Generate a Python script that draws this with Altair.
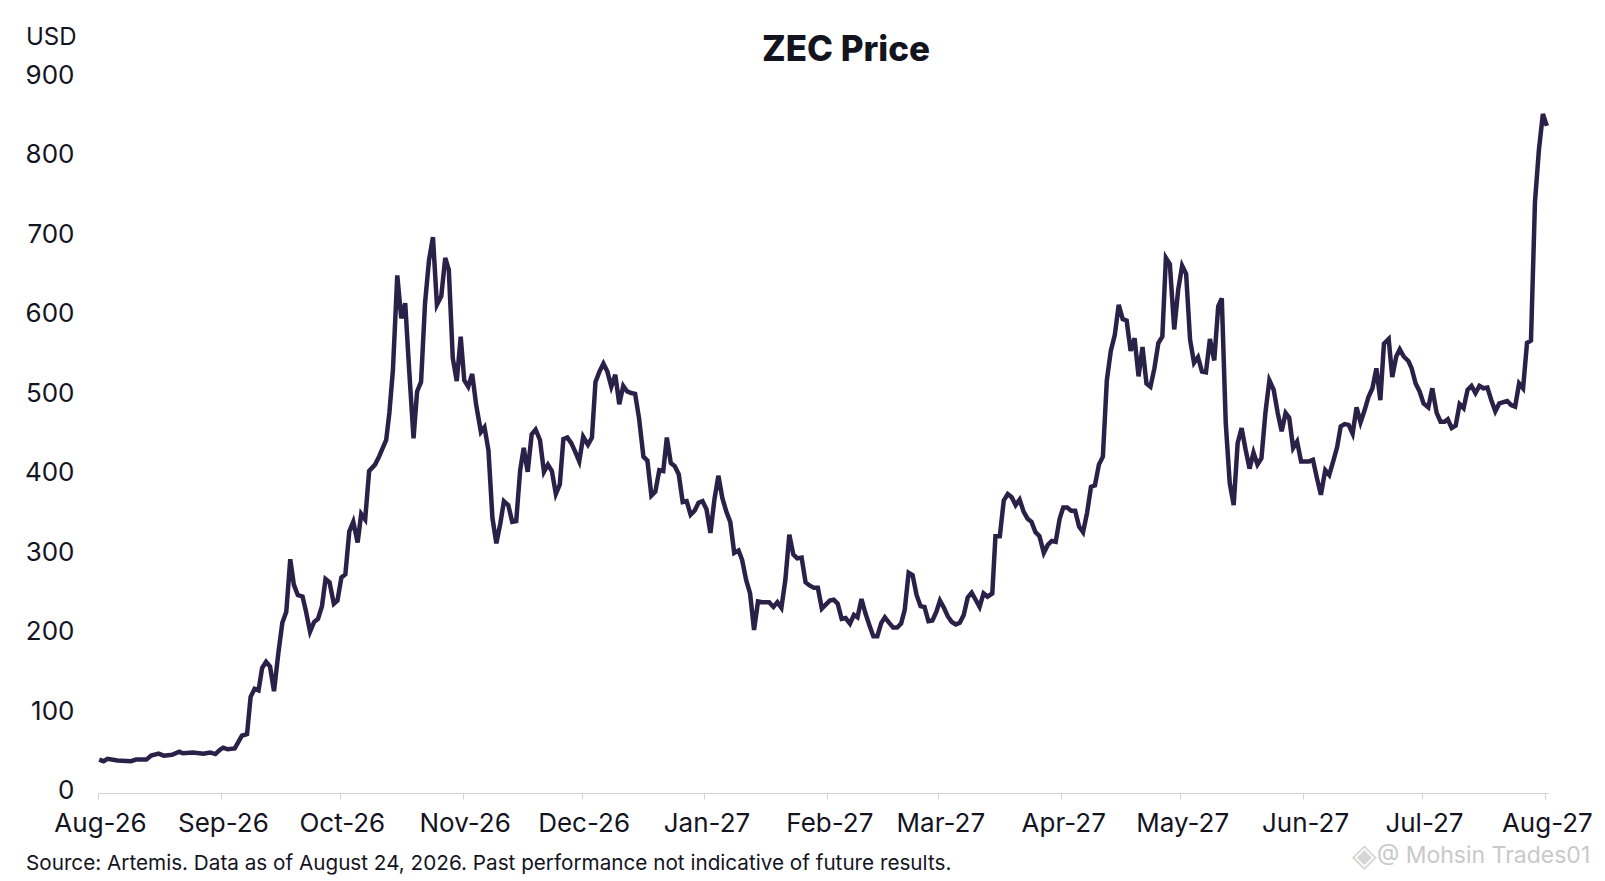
import altair as alt
import pandas as pd

# day offset from 1 Aug 2026 and ZEC price (USD)
days = [0.3,1.4,2.4,4.9,8.3,9.6,12.2,13.4,15.3,16.6,18.7,20.5,21.4,24,26.6,28.3,29.6,30.9,31.6,32.7,34.5,36.3,37.6,38.5,39.5,40.5,41.4,42.4,43.4,44.4,45.5,46.5,47.5,48.5,49.4,50.4,51.6,52.4,53.5,54.5,55.5,56.5,57.4,58.4,59.5,60.4,61.4,62.4,63.4,64.4,65.5,66.4,67.4,68.4,69.9,70.9,72.7,73.5,74.4,75.5,76.5,77.5,78.5,79.6,80.5,81.5,82.5,83.5,84.5,85.5,86.6,87.6,88.5,89.5,90.5,91.5,92.4,93.4,94.4,95.4,96.6,97.5,98.5,99.5,100.5,101.5,102.4,103.5,104.5,105.5,106.5,107.4,108.4,109.4,110.4,111.5,112.5,113.5,114.5,115.5,116.5,117.4,118.4,119.4,120.4,121.4,122.4,123.6,124.6,125.5,126.5,127.5,128.5,129.5,130.5,131.5,132.5,133.5,134.5,135.5,136.5,137.6,138.6,139.6,140.6,141.6,142.6,143.5,144.5,145.5,146.5,147.5,148.5,149.5,150.5,151.5,152.5,153.5,154.5,155.5,156.5,157.5,158.5,159.5,160.5,161.6,162.5,163.5,164.5,165.5,166.5,167.5,169.3,170.4,171.4,172.4,173.4,174.4,175.4,176.4,177.5,178.5,179.5,180.6,181.6,182.6,183.6,184.6,185.6,186.6,187.6,188.6,189.7,190.7,191.6,192.6,193.6,194.6,195.6,196.6,197.6,198.5,199.6,200.6,201.6,202.6,203.5,204.5,205.5,206.5,207.5,208.5,209.5,210.5,211.5,212.4,213.4,214.4,215.4,216.4,217.4,218.4,219.4,220.4,221.4,222.4,223.4,224.4,225.6,226.4,227.5,228.5,229.5,230.5,231.5,232.5,233.5,234.5,235.5,236.5,237.5,238.6,239.6,240.6,241.6,242.6,243.5,244.5,245.5,246.5,247.5,248.5,249.5,250.5,251.5,252.5,253.5,254.5,255.5,256.5,257.5,258.5,259.5,260.5,261.5,262.5,263.5,264.5,265.5,266.5,267.5,268.5,269.4,270.4,271.5,272.5,273.5,274.5,275.5,276.5,277.5,278.5,279.5,280.5,281.6,282.6,283.5,284.5,285.5,286.5,287.5,288.5,289.5,290.5,291.5,292.5,293.5,294.5,295.5,296.6,297.6,298.6,299.6,300.5,301.5,302.5,303.5,305.5,306.5,307.5,308.5,309.6,310.6,311.6,312.6,313.5,314.5,315.5,316.5,317.5,318.5,319.5,320.5,321.5,322.5,323.5,324.4,325.6,326.5,327.5,328.4,329.4,330.6,331.4,332.4,333.4,334.4,335.6,336.6,337.7,338.7,339.7,340.5,341.5,342.5,343.5,344.5,345.5,346.5,347.5,348.5,349.5,350.5,351.5,352.5,353.5,355.5,356.5,357.5,358.5,359.5,360.5,361.5,362.5,363.5,364.5,365.5]
prices = [39,37,40,38,37,39,39,44,46.5,44,45,49,47,48,46.5,48,46,52,54,52,53,69,71,118,128,126,154,162,156,125,173,211,225,291,259,246,244,227,200,212,216,232,266,262,235,239,268,272,326,338,312,348,341,402,410,420,441,475,529,648,594,613,529,443,502,514,613,667,696,611,622,670,655,544,515,571,516,508,524,485,451,457,428,343,311,336,364,359,338,339,403,431,401,448,454,441,401,410,402,373,385,442,444,437,426,414,445,435,444,514,527,537,527,508,523,486,509,502,500,499,468,420,415,371,376,403,402,444,412,408,398,363,364,347,352,362,364,354,324,366,396,368,351,338,299,302,290,265,248,202,238,237,237,231,237,230,265,322,297,292,293,262,258,255,255,229,234,239,240,235,216,217,210,221,218,241,223,208,194,194,211,218,211,205,205,210,227,274,271,246,232,231,213,214,225,239,230,219,212,209,211,221,243,249,240,231,248,244,248,320,320,365,373,369,359,366,351,342,338,325,320,299,309,314,313,342,356,356,352,352,332,325,349,382,384,410,420,516,553,573,611,593,591,553,569,521,558,512,508,531,563,571,670,662,580,630,660,650,567,538,545,527,526,568,541,609,619,462,387,359,437,456,429,405,425,410,418,475,516,504,475,452,475,469,431,439,414,414,416,393,372,403,397,414,432,458,461,460,449,482,463,478,495,506,531,491,562,568,520,546,555,546,540,531,512,502,487,482,506,475,464,464,467,456,459,486,481,504,509,500,509,506,507,491,477,487,490,485,483,512,506,563,566,740,806,851,836]
tick_dates = ["2026-08-01","2026-09-01","2026-10-01","2026-11-01","2026-12-01","2027-01-01","2027-02-01","2027-03-01","2027-04-01","2027-05-01","2027-06-01","2027-07-01","2027-08-01"]
y_ticks = [0,100,200,300,400,500,600,700,800,900]
title_text = "ZEC Price"
unit_text = "USD"
source_text = "Source: Artemis. Data as of August 24, 2026. Past performance not indicative of future results."
mark_text = "@ Mohsin Trades01"

assert len(days) == len(prices), (len(days), len(prices))

FONT = "Inter"
INK = "#14141f"
base = pd.Timestamp("2026-08-01")
df = pd.DataFrame({"date": base + pd.to_timedelta(days, unit="D"), "price": prices})

x = alt.X("date:T", title=None,
          scale=alt.Scale(domain=["2026-08-01T00:00:00", "2027-08-01T19:00:00"], nice=False),
          axis=alt.Axis(values=[d + "T00:00:00" for d in tick_dates], format="%b-%y", grid=False,
                        domainColor="#d4d4d4", domainWidth=1, tickColor="#d4d4d4", tickWidth=1, tickSize=6,
                        labelFont=FONT, labelFontSize=26, labelColor=INK, labelPadding=11,
                        labelOverlap=False, labelFlush=False, labelOffset=2, labelBound=False))
y = alt.Y("price:Q", title=None,
          scale=alt.Scale(domain=[-3, 900], nice=False, zero=False),
          axis=alt.Axis(values=y_ticks, grid=False, domain=False, ticks=False, tickSize=0,
                        labelFont=FONT, labelFontSize=26, labelColor=INK, labelPadding=24))

line = alt.Chart(df).mark_line(color="#2a2149", strokeWidth=4.5, clip=False).encode(x=x, y=y)

def note(text, px, py, size, color=INK, weight="normal", align="left", font=FONT):
    return alt.Chart(pd.DataFrame({"t": [text]})).mark_text(
        font=font, fontSize=size, color=color, fontWeight=weight, align=align, baseline="middle"
    ).encode(x=alt.value(px), y=alt.value(py), text="t:N")

chart = alt.layer(
    line,
    note(title_text, 748, -25, 35, weight=800, align="center"),
    note(unit_text, -72, -37, 24),
    note(source_text, -72, 789, 20.7),
    note("◈", 1254, 781, 32, color="#d5d5d5", font="DejaVu Sans"),
    note(mark_text, 1279, 781, 23, color="#c9c9c9"),
).properties(
    width=1450, height=718,
    padding={"left": 90, "top": 67, "right": 49, "bottom": 83},
    autosize=alt.AutoSizeParams(type="none"),
    background="white",
).configure_view(strokeWidth=0)

chart.save("out.html", embed_options={"renderer": "svg", "actions": False})
